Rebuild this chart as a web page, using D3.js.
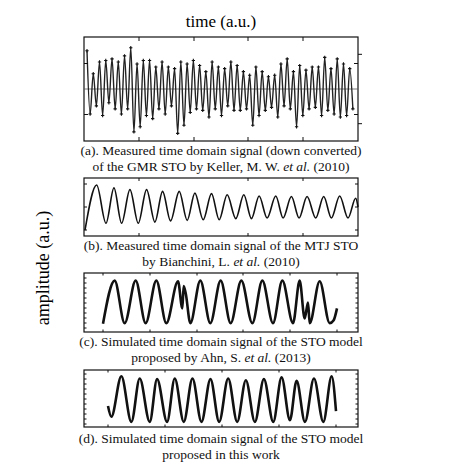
<!DOCTYPE html>
<html><head><meta charset="utf-8">
<script src="https://cdn.jsdelivr.net/npm/d3@7"></script>
<style>body{margin:0;background:#fff}svg{font-family:"Liberation Serif","DejaVu Serif",serif}</style>
</head><body>
<script>
"use strict";

// (a) measured signal: alternating peak / trough amplitudes (normalised, -1..1)
const aPeaks = [0.75,0.30,0.53,0.56,0.59,0.53,0.65,0.81,0.49,0.56,0.56,0.43,0.53,0.43,0.40,0.53,0.49,0.56,0.46,0.34,0.53,0.43,0.40,0.53,0.46,0.34,0.27,0.43,0.34,0.24,0.27,0.49,0.59,0.34,0.46,0.37,0.43,0.43,0.62,0.40,0.59,0.49,0.40];
const aTroughs = [-0.49,-0.33,-0.52,-0.27,-0.39,-0.49,-0.39,-0.84,-0.74,-0.52,-0.58,-0.39,-0.49,-0.33,-0.87,-0.71,-0.46,-0.39,-0.42,-0.55,-0.39,-0.52,-0.33,-0.42,-0.42,-0.39,-0.71,-0.52,-0.42,-0.36,-0.55,-0.33,-0.39,-0.74,-0.52,-0.39,-0.36,-0.52,-0.42,-0.49,-0.55,-0.52,-0.39];

// (b) measured MTJ signal: time / amplitude (0..1) of extrema
const bTime = [195,230,258,282,305,330,355,380,405,428,452,478,502,525,550,575,598,622,648,672,695,718,742,768,790,815,838,862,888,912,935,960,985,1008,1015];
const bAmp = [0.10,0.88,0.22,0.83,0.22,0.80,0.22,0.80,0.24,0.77,0.26,0.77,0.27,0.74,0.28,0.73,0.28,0.71,0.30,0.71,0.30,0.69,0.31,0.69,0.31,0.68,0.31,0.68,0.31,0.68,0.31,0.69,0.31,0.65,0.50];

// (c) Ahn et al. model
const cTime = [130,165,195,228,258,290,320,355,368,372,378,392,422,452,483,513,545,578,608,640,668,700,720,735,745,750,780,810,822,832];
const cAmp = [0.14,0.87,0.15,0.87,0.15,0.87,0.15,0.86,0.40,0.78,0.66,0.15,0.87,0.15,0.87,0.15,0.87,0.15,0.87,0.15,0.87,0.15,0.87,0.23,0.50,0.15,0.86,0.15,0.20,0.40];

// (d) this work
const dTime = [145,155,185,215,240,270,292,322,345,372,398,425,452,478,505,532,558,585,612,640,665,690,710,735,762,790,815,828];
const dAmp = [0.37,0.18,0.89,0.09,0.85,0.09,0.84,0.09,0.85,0.09,0.85,0.09,0.84,0.09,0.85,0.09,0.82,0.09,0.84,0.09,0.87,0.12,0.81,0.09,0.85,0.09,0.89,0.28];

const captions = [
  ["(a). Measured time domain signal (down converted)", "of the GMR STO by Keller, M. W. ", "et al.", " (2010)"],
  ["(b). Measured time domain signal of the MTJ STO", "by Bianchini, L. ", "et al.", " (2010)"],
  ["(c). Simulated time domain signal of the STO model", "proposed by Ahn, S. ", "et al.", " (2013)"],
  ["(d). Simulated time domain signal of the STO model", "proposed in this work", "", ""]
];

const svg = d3.select("body").append("svg").attr("width", 474).attr("height", 471);
const x0 = 84, x1 = 358;
const panels = [
  {top: 37, bottom: 141, cap: 155},
  {top: 178, bottom: 236, cap: 250},
  {top: 273, bottom: 332, cap: 346},
  {top: 370, bottom: 427, cap: 443}
];

svg.append("text").attr("x", 221).attr("y", 27).attr("text-anchor", "middle")
  .attr("font-size", 17).text("time (a.u.)");
svg.append("text").attr("transform", "translate(49,268) rotate(-90)").attr("text-anchor", "middle")
  .attr("font-size", 18).text("amplitude (a.u.)");

panels.forEach((p, i) => {
  const g = svg.append("g");
  g.append("rect").attr("x", x0).attr("y", p.top).attr("width", x1 - x0).attr("height", p.bottom - p.top)
    .attr("fill", "none").attr("stroke", "#111").attr("stroke-width", 1.2);
  const c = captions[i];
  g.append("text").attr("x", 221).attr("y", p.cap).attr("text-anchor", "middle").attr("font-size", 13.5).attr("fill", "#111").text(c[0]);
  const t2 = g.append("text").attr("x", 221).attr("y", p.cap + 16).attr("text-anchor", "middle").attr("font-size", 13.5).attr("fill", "#111");
  t2.append("tspan").text(c[1]);
  if (c[2]) t2.append("tspan").attr("font-style", "italic").text(c[2]);
  if (c[3]) t2.append("tspan").text(c[3]);
  p.g = g;
});

// ticks helper
function ticks(g, p, xs, ys, len) {
  xs.forEach(v => {
    g.append("line").attr("x1", v).attr("x2", v).attr("y1", p.top).attr("y2", p.top + len).attr("stroke", "#111");
    g.append("line").attr("x1", v).attr("x2", v).attr("y1", p.bottom).attr("y2", p.bottom - len).attr("stroke", "#111");
  });
  ys.forEach(v => {
    g.append("line").attr("x1", x0).attr("x2", x0 + len).attr("y1", v).attr("y2", v).attr("stroke", "#111");
    g.append("line").attr("x1", x1).attr("x2", x1 - len).attr("y1", v).attr("y2", v).attr("stroke", "#111");
  });
}

// panel (a)
{
  const p = panels[0];
  const ya = d3.scaleLinear().domain([-1, 1]).range([p.bottom - 1, p.top + 1]);
  const n = aPeaks.length;
  const xa = d3.scaleLinear().domain([0, 2 * n]).range([x0 + 3, x1 - 2]);
  const pts = [];
  for (let k = 0; k < n; k++) { pts.push([2 * k, aPeaks[k]]); pts.push([2 * k + 1, aTroughs[k]]); }
  p.g.append("line").attr("x1", x0).attr("x2", x1).attr("y1", ya(0)).attr("y2", ya(0)).attr("stroke", "#555").attr("stroke-width", 0.8);
  const line = d3.line().x(d => xa(d[0])).y(d => ya(d[1])).curve(d3.curveMonotoneX);
  p.g.append("path").attr("d", line(pts)).attr("fill", "none").attr("stroke", "#222").attr("stroke-width", 1.4);
  p.g.selectAll(".m").data(pts).join("path").attr("class", "m")
    .attr("d", d3.symbol(d3.symbolCross, 6)).attr("fill", "#111")
    .attr("transform", d => `translate(${xa(d[0])},${ya(d[1])})`);
  ticks(p.g, p, [139, 194, 248, 303], [ya(0.5), ya(-0.5)], 4);
  p.g.append("line").attr("x1", x1).attr("x2", x1 + 4).attr("y1", ya(0.68)).attr("y2", ya(0.68)).attr("stroke", "#111");
  p.g.append("line").attr("x1", x1).attr("x2", x1 + 4).attr("y1", ya(-0.68)).attr("y2", ya(-0.68)).attr("stroke", "#111");
}

function drawPanel(i, T, A, dom, rng, width) {
  const p = panels[i];
  const xs = d3.scaleLinear().domain(dom).range(rng);
  const ys = d3.scaleLinear().domain([0, 1]).range([p.bottom, p.top]);
  const line = d3.line().x((d, k) => xs(T[k])).y(d => ys(d)).curve(d3.curveMonotoneX);
  p.g.append("path").attr("d", line(A)).attr("fill", "none").attr("stroke", "#111")
    .attr("stroke-width", width).attr("stroke-linejoin", "round");
  return {p, ys};
}

{
  const {p} = drawPanel(1, bTime, bAmp, [192, 1015], [x0, x1], 1.6);
  ticks(p.g, p, [139, 248, 303], [p.top + 6, p.top + 29, p.bottom - 6], 3);
}
{
  const {p} = drawPanel(2, cTime, cAmp, [130, 832], [103, 337], 2.6);
  const yt = d3.range(0, 11).map(k => p.top + 5 + k * 5);
  ticks(p.g, p, [103, 150, 197, 243, 290, 337], yt, 2.5);
}
{
  const {p} = drawPanel(3, dTime, dAmp, [145, 828], [108, 336], 2.6);
  const yt = d3.range(0, 11).map(k => p.top + 4 + k * 5);
  ticks(p.g, p, [108, 165, 222, 279, 336], yt, 2.5);
}
</script>
</body></html>
